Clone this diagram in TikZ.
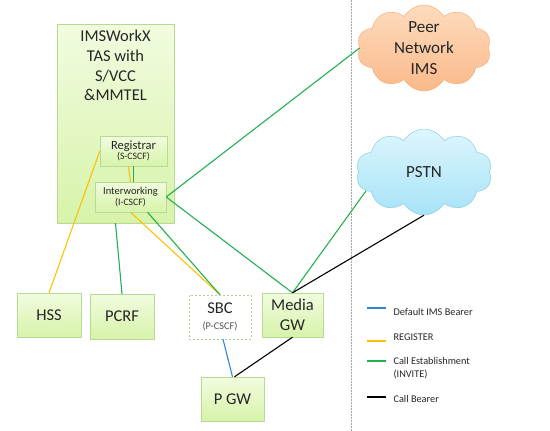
\documentclass[tikz,border=0pt]{standalone}
\usepackage{fontspec}
\setmainfont{Carlito}
\usepackage{tikz}
\usetikzlibrary{shapes.symbols}
\definecolor{boxtop}{HTML}{F1FCDF}
\definecolor{boxbot}{HTML}{D7F3AA}
\definecolor{boxline}{HTML}{B9DA92}
\definecolor{txt}{HTML}{262626}
\definecolor{sig}{HTML}{22B04E}
\definecolor{regcol}{HTML}{FFC000}
\definecolor{imsblue}{HTML}{2E88D6}
\definecolor{peertop}{HTML}{FDDCBE}
\definecolor{peerbot}{HTML}{FAB98A}
\definecolor{peerline}{HTML}{F4A76E}
\definecolor{pstntop}{HTML}{DDF6FD}
\definecolor{pstnbot}{HTML}{A7E3F7}
\definecolor{pstnline}{HTML}{7DC7DF}
\newcommand{\bigtxt}{\fontsize{16.5}{19.7}\selectfont}
\newcommand{\tinytxt}{\fontsize{9.8}{11}\selectfont}

\begin{document}
\begin{tikzpicture}[x=1pt,y=-1pt,
  box/.style={draw=boxline,top color=boxtop,bottom color=boxbot,inner sep=0pt,align=center,text=txt,font=\bigtxt},
  smallbox/.style={box,font=\fontsize{12.5}{13.5}\selectfont},
  cloudy/.style={cloud,cloud puffs=10,cloud puff arc=120,cloud ignores aspect,minimum width=134pt,minimum height=86pt,inner sep=0pt,align=center,text=txt,font=\fontsize{17}{20.7}\selectfont},
  link/.style={line width=1.1pt},
  legend/.style={anchor=west,align=left,text=txt,font=\fontsize{10.3}{13}\selectfont}]
\useasboundingbox (0,0) rectangle (550,431);
% IMS core
\node[box,minimum width=117pt,minimum height=199pt] (tas) at (115.5,123.5) {};
\node[text=txt,font=\bigtxt,align=center,anchor=north,inner sep=0pt] (tastxt) at (115.5,30) {IMSWorkX\\TAS with\\S/VCC\\\&MMTEL};
\node[smallbox,minimum width=67pt,minimum height=30pt] (reg) at (133.5,151) {Registrar\\[-3pt]{\tinytxt(S-CSCF)}};
\node[smallbox,font=\fontsize{10.5}{11.5}\selectfont,minimum width=71pt,minimum height=30pt] (iw) at (130.5,197) {Interworking\\[-1pt]{\tinytxt(I-CSCF)}};
% lower row
\node[box,minimum width=64pt,minimum height=44pt] (hss) at (49,315) {HSS};
\node[box,minimum width=64pt,minimum height=45pt] (pcrf) at (122,316.5) {PCRF};
\node[box,draw=boxline!90!gray,dash pattern=on 2pt off 2pt,top color=white,bottom color=white,minimum width=62pt,minimum height=44pt] (sbc) at (220,317) {SBC\\[-4pt]{\fontsize{10.3}{11}\selectfont\color{txt!80}(P-CSCF)}};
\node[box,minimum width=61pt,minimum height=44pt] (mgw) at (292.5,315) {Media\\GW};
\node[box,minimum width=63pt,minimum height=44pt] (pgw) at (232.5,399) {P GW};
% other networks
\node[cloudy,draw=peerline,top color=peertop,bottom color=peerbot] (peer) at (424,48) {Peer\\Network\\IMS};
\node[cloudy,draw=pstnline,top color=pstntop,bottom color=pstnbot,minimum width=136pt] (pstn) at (424,172) {PSTN};
\draw[gray!70,line width=0.8pt,dash pattern=on 1.5pt off 1.5pt] (351,0) -- (351,431);
% REGISTER
\draw[link,regcol] (reg.west) -- (hss.north);
\draw[link,regcol] ([xshift=-5pt]reg.south) -- (iw.north);
\draw[link,regcol] (iw.south) -- (sbc.north);
% INVITE
\draw[link,sig] (reg.south) -- (reg.south |- iw.north);
\draw[link,sig] ([xshift=17pt]iw.south) -- (sbc.north);
\draw[link,sig] (tas.south) -- (pcrf.north);
\draw[link,sig] (iw.east) -- (peer.west);
\draw[link,sig] (iw.east) -- (mgw.north);
\draw[link,sig] (mgw.north) -- (pstn.198);
% bearers
\draw[link,black] (mgw.north) -- (pstn.south);
\draw[link,black] (mgw.south) -- ([xshift=2pt]pgw.north);
\draw[link,imsblue] ([xshift=3pt]sbc.south) -- (pgw.north);
% legend
\foreach \c/\y/\ty/\t [count=\i] in {imsblue/308/312/Default IMS Bearer,regcol/341/337/REGISTER,sig/361/368/{Call Establishment\\(INVITE)},black/397/399/Call Bearer} {
  \coordinate (ls\i) at (367,\y);
  \coordinate (le\i) at (386,\y);
  \draw[\c,line width=1.6pt] (ls\i) -- (le\i);
  \node[legend] (leg\i) at (390,\ty) {\t};
}
\end{tikzpicture}
\end{document}
